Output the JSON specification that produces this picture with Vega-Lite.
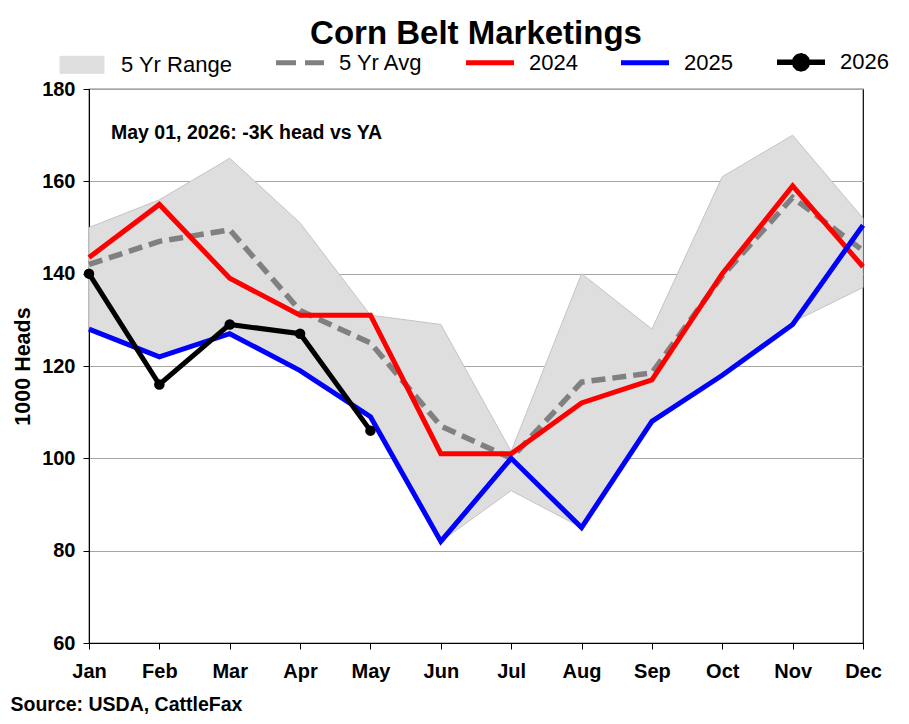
{
  "$schema": "https://vega.github.io/schema/vega-lite/v6.json",
  "autosize": "none",
  "width": 774,
  "height": 554,
  "padding": {"left": 89, "top": 89, "right": 46, "bottom": 81},
  "background": "white",
  "title": {
    "text": "Corn Belt Marketings",
    "font": "Liberation Sans",
    "fontSize": 33,
    "fontWeight": "bold",
    "color": "black",
    "anchor": "middle",
    "baseline": "alphabetic",
    "offset": -26
  },
  "config": {
    "font": "Liberation Sans",
    "view": {"stroke": "black", "strokeWidth": 1.2}
  },
  "datasets": {
    "range": [
      {"month": "Jan", "series": "5 Yr Range", "low": 128, "high": 150},
      {"month": "Feb", "series": "5 Yr Range", "low": 122, "high": 156},
      {"month": "Mar", "series": "5 Yr Range", "low": 127, "high": 165},
      {"month": "Apr", "series": "5 Yr Range", "low": 119, "high": 151},
      {"month": "May", "series": "5 Yr Range", "low": 109, "high": 131},
      {"month": "Jun", "series": "5 Yr Range", "low": 82, "high": 129},
      {"month": "Jul", "series": "5 Yr Range", "low": 93, "high": 101.5},
      {"month": "Aug", "series": "5 Yr Range", "low": 85, "high": 140},
      {"month": "Sep", "series": "5 Yr Range", "low": 108, "high": 128},
      {"month": "Oct", "series": "5 Yr Range", "low": 118, "high": 161},
      {"month": "Nov", "series": "5 Yr Range", "low": 129.5, "high": 170},
      {"month": "Dec", "series": "5 Yr Range", "low": 137, "high": 152}
    ],
    "lines": [
      {"month": "Jan", "series": "5 Yr Avg", "value": 142},
      {"month": "Feb", "series": "5 Yr Avg", "value": 147},
      {"month": "Mar", "series": "5 Yr Avg", "value": 149.5},
      {"month": "Apr", "series": "5 Yr Avg", "value": 132},
      {"month": "May", "series": "5 Yr Avg", "value": 125},
      {"month": "Jun", "series": "5 Yr Avg", "value": 107},
      {"month": "Jul", "series": "5 Yr Avg", "value": 100},
      {"month": "Aug", "series": "5 Yr Avg", "value": 116.5},
      {"month": "Sep", "series": "5 Yr Avg", "value": 118.5},
      {"month": "Oct", "series": "5 Yr Avg", "value": 139.5},
      {"month": "Nov", "series": "5 Yr Avg", "value": 156.5},
      {"month": "Dec", "series": "5 Yr Avg", "value": 145},
      {"month": "Jan", "series": "2024", "value": 143.5},
      {"month": "Feb", "series": "2024", "value": 155},
      {"month": "Mar", "series": "2024", "value": 139},
      {"month": "Apr", "series": "2024", "value": 131},
      {"month": "May", "series": "2024", "value": 131},
      {"month": "Jun", "series": "2024", "value": 101},
      {"month": "Jul", "series": "2024", "value": 101},
      {"month": "Aug", "series": "2024", "value": 112},
      {"month": "Sep", "series": "2024", "value": 117},
      {"month": "Oct", "series": "2024", "value": 140},
      {"month": "Nov", "series": "2024", "value": 159},
      {"month": "Dec", "series": "2024", "value": 141.5},
      {"month": "Jan", "series": "2025", "value": 128},
      {"month": "Feb", "series": "2025", "value": 122},
      {"month": "Mar", "series": "2025", "value": 127},
      {"month": "Apr", "series": "2025", "value": 119},
      {"month": "May", "series": "2025", "value": 109},
      {"month": "Jun", "series": "2025", "value": 82},
      {"month": "Jul", "series": "2025", "value": 100},
      {"month": "Aug", "series": "2025", "value": 85},
      {"month": "Sep", "series": "2025", "value": 108},
      {"month": "Oct", "series": "2025", "value": 118},
      {"month": "Nov", "series": "2025", "value": 129},
      {"month": "Dec", "series": "2025", "value": 150.5},
      {"month": "Jan", "series": "2026", "value": 140},
      {"month": "Feb", "series": "2026", "value": 116},
      {"month": "Mar", "series": "2026", "value": 129},
      {"month": "Apr", "series": "2026", "value": 127},
      {"month": "May", "series": "2026", "value": 106}
    ],
    "note": [
      {"month": "Jan", "value": 170.5, "label": "May 01, 2026: -3K head vs YA"}
    ]
  },
  "encoding": {
    "x": {
      "field": "month",
      "type": "ordinal",
      "sort": ["Jan", "Feb", "Mar", "Apr", "May", "Jun", "Jul", "Aug", "Sep", "Oct", "Nov", "Dec"],
      "scale": {"type": "point", "padding": 0},
      "axis": {
        "labelAngle": 0,
        "labelFont": "Liberation Sans",
        "labelFontSize": 20,
        "labelFontWeight": "bold",
        "labelColor": "black",
        "labelPadding": 12,
        "tickColor": "black",
        "tickSize": 6,
        "domainColor": "black",
        "grid": false,
        "title": "Source: USDA, CattleFax",
        "titleFont": "Liberation Sans",
        "titleFontSize": 19.5,
        "titleFontWeight": "bold",
        "titleColor": "black",
        "titleAnchor": "start",
        "titleAlign": "left",
        "titleBaseline": "middle",
        "titleX": -79,
        "titleY": 61
      }
    },
    "y": {
      "type": "quantitative",
      "scale": {"domain": [60, 180], "nice": false, "zero": false},
      "axis": {
        "values": [60, 80, 100, 120, 140, 160, 180],
        "title": "1000 Heads",
        "titleFont": "Liberation Sans",
        "titleFontSize": 21.5,
        "titleFontWeight": "bold",
        "titleColor": "black",
        "titlePadding": 7,
        "labelFont": "Liberation Sans",
        "labelFontSize": 20,
        "labelFontWeight": "bold",
        "labelColor": "black",
        "labelPadding": 8,
        "tickColor": "black",
        "tickSize": 6,
        "domainColor": "black",
        "gridColor": "#a6a6a6",
        "gridWidth": 1
      }
    },
    "color": {
      "field": "series",
      "type": "nominal",
      "scale": {
        "domain": ["5 Yr Range", "5 Yr Avg", "2024", "2025", "2026"],
        "range": ["#dedede", "#808080", "#ff0000", "#0000ff", "#000000"]
      },
      "legend": {
        "title": null,
        "orient": "none",
        "direction": "horizontal",
        "columns": 5,
        "legendX": -18,
        "legendY": -38,
        "padding": 0,
        "columnPadding": 33,
        "labelFont": "Liberation Sans",
        "labelFontSize": 22,
        "labelColor": "black",
        "labelOffset": 28,
        "symbolSize": 2304,
        "symbolStrokeWidth": 5,
        "encode": {
          "symbols": {
            "update": {
              "shape": {"signal": "datum.value === '5 Yr Range' ? 'M0,-0.767M0,0.767M-0.917,-0.354H0.917V0.354H-0.917Z' : datum.value === '2026' ? 'M0,-0.6M0,0.6M-1,0H1M0.27,0L0.234,0.135L0.135,0.234L0,0.27L-0.135,0.234L-0.234,0.135L-0.27,0L-0.234,-0.135L-0.135,-0.234L0,-0.27L0.135,-0.234L0.234,-0.135Z' : 'M0,-0.6M0,0.6M-1,0H1'"},
              "size": {"value": 2304},
              "fill": {"signal": "datum.value === '5 Yr Range' ? '#dedede' : datum.value === '2026' ? '#000000' : 'transparent'"},
              "stroke": {"signal": "datum.value === '5 Yr Range' ? '#cfcfcf' : scale('color', datum.value)"},
              "strokeWidth": {"signal": "datum.value === '5 Yr Range' ? 1 : datum.value === '2026' ? 5.5 : 5"},
              "strokeDash": {"signal": "datum.value === '5 Yr Avg' ? [20, 9] : [1, 0]"},
              "opacity": {"value": 1},
              "fillOpacity": {"value": 1},
              "strokeOpacity": {"value": 1}
            }
          }
        }
      }
    }
  },
  "layer": [
    {
      "data": {"name": "range"},
      "mark": {"type": "area", "stroke": "#c4c4c4", "strokeWidth": 1, "opacity": 1},
      "encoding": {
        "y": {"field": "low", "type": "quantitative"},
        "y2": {"field": "high"}
      }
    },
    {
      "data": {"name": "lines"},
      "transform": [{"filter": "datum.series === '5 Yr Avg'"}],
      "mark": {"type": "line", "strokeWidth": 5.5, "strokeDash": [14, 7]},
      "encoding": {
        "y": {"field": "value", "type": "quantitative"}
      }
    },
    {
      "data": {"name": "lines"},
      "transform": [{"filter": "datum.series !== '5 Yr Avg'"}],
      "mark": {"type": "line", "strokeWidth": 5},
      "encoding": {
        "y": {"field": "value", "type": "quantitative"}
      }
    },
    {
      "data": {"name": "lines"},
      "transform": [{"filter": "datum.series === '2026'"}],
      "mark": {"type": "point", "filled": true, "shape": "circle", "size": 110, "opacity": 1},
      "encoding": {
        "y": {"field": "value", "type": "quantitative"}
      }
    },
    {
      "data": {"name": "note"},
      "mark": {
        "type": "text",
        "align": "left",
        "baseline": "middle",
        "dx": 22,
        "font": "Liberation Sans",
        "fontSize": 19.5,
        "fontWeight": "bold",
        "color": "black"
      },
      "encoding": {
        "y": {"field": "value", "type": "quantitative"},
        "text": {"field": "label"},
        "color": {"value": "black"}
      }
    }
  ]
}
